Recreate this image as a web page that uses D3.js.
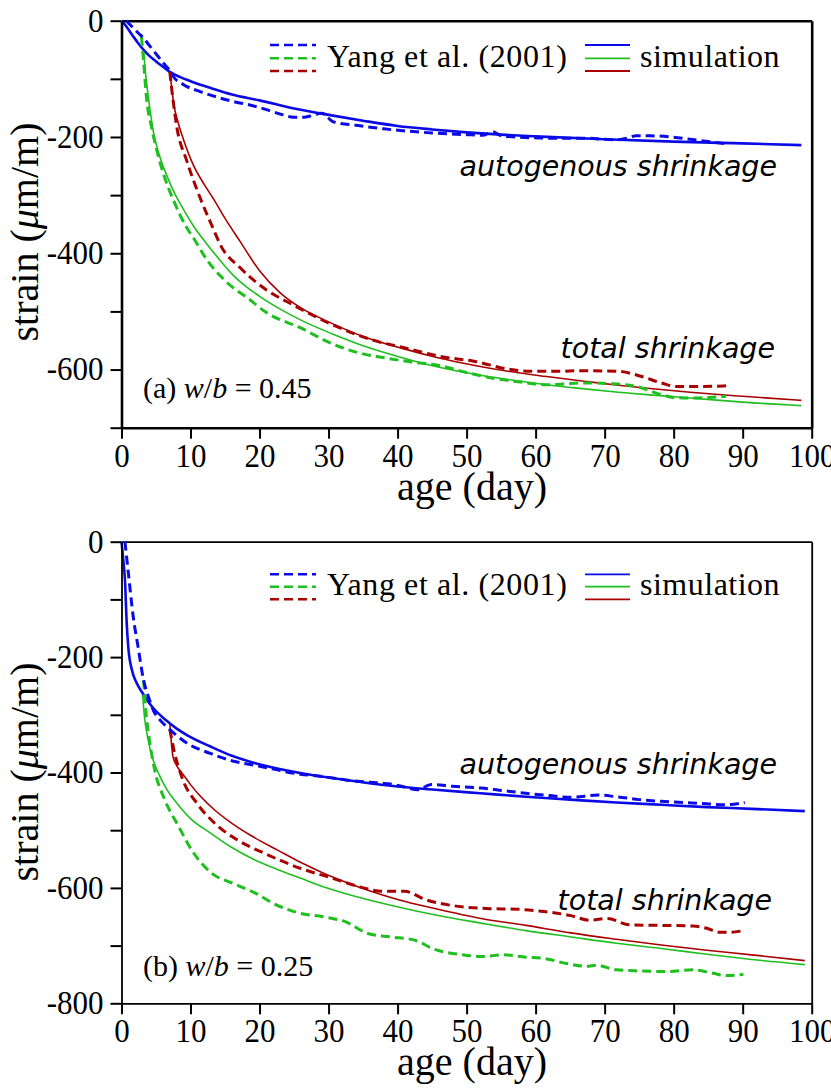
<!DOCTYPE html>
<html>
<head>
<meta charset="utf-8">
<script src="https://cdn.jsdelivr.net/npm/d3@7"></script>
<style>
  body { margin: 0; background: #fff; }
</style>
</head>
<body>
<svg id="chart" width="831" height="1091"></svg>
<script>

////////////////////////////////////////////////////////////
// Data: [age (day), strain (um/m)]
////////////////////////////////////////////////////////////

var ageTicks = [0, 10, 20, 30, 40, 50, 60, 70, 80, 90, 100];

// (a) w/b = 0.45
var autoSimA = [[0,0],[0.5,-7],[1,-15],[1.7,-27],[2.5,-40],[3.2,-50],[4,-60],[5,-70],[6,-79],
  [7,-88],[8.5,-97],[10,-104],[13,-116],[16,-127],[20,-137],[25,-151],[30,-162],[35,-172],
  [40,-181],[45,-187],[50,-192],[55,-196],[60,-199],[70,-204],[80,-208],[90,-211],[98.5,-214]];

var autoExpA = [[0.7,0],[1.5,-10],[2.5,-22],[3.2,-30],[4,-42],[5,-57],[6,-72],[7,-86],[7.5,-96],
  [9,-110],[11.4,-122],[14,-132],[16.2,-139],[18.6,-145],[21,-153],[23.4,-162],[24.9,-166],
  [26.5,-166],[27.3,-164],[29,-159],[30.7,-174],[34,-180],[38,-186],[45,-193],[50,-196],
  [52.4,-197],[53.8,-191],[55,-198],[57.3,-200],[62,-202],[66.9,-202],[71.7,-205],[73.2,-202],
  [74.6,-198],[76.6,-198],[80,-200.5],[82.4,-204],[87.7,-212]];

var dry3SimA = [[3.2,-50],[3.4,-80],[3.65,-108],[4.1,-150],[4.6,-190],[5.5,-232],[6.55,-266],
  [7.7,-297],[8.95,-324],[10.6,-356],[12.3,-383],[14,-408],[16.2,-438],[18,-457],[20,-474],
  [23,-496],[26,-515],[30.4,-538],[35,-559],[40.8,-580],[46,-596],[51.2,-608],[56,-617],
  [61.6,-626],[67,-633],[72,-639],[77,-644],[82.4,-649],[90,-656],[98.5,-662]];

var dry3ExpA = [[2.9,-28],[3.2,-70],[3.65,-136],[4.3,-180],[5.1,-222],[6.2,-268],[7.5,-308],
  [9.4,-355],[10.5,-375],[12.3,-410],[15,-447],[18.6,-480],[21,-502],[25.9,-528],[30.4,-555],
  [34,-570],[38.2,-580],[42,-587],[46,-593],[50,-605],[53.8,-615],[57.5,-621],[61.6,-626],
  [64,-625],[66.8,-623],[72,-625],[74.6,-629],[78.2,-643],[80,-648],[82.4,-649],[85,-648],[87.6,-646]];

var dry7SimA = [[7,-88],[7.3,-118],[7.6,-145],[8.2,-175],[9,-205],[10.4,-248],[12,-282],
  [13.3,-306],[15,-340],[17.2,-380],[20,-430],[23,-468],[26,-494],[30,-518],[35,-543],
  [40.8,-564],[46,-580],[51.2,-593],[56,-603],[61.6,-612],[67,-620],[72,-627],[77,-633],
  [82.4,-639],[90,-646],[98.5,-653]];

var dry7ExpA = [[7,-88],[7.4,-130],[8,-182],[9.4,-239],[11.4,-305],[13.3,-358],[14.3,-385],
  [17.2,-425],[21,-463],[24.9,-489],[30.4,-522],[37.2,-552],[40.8,-562],[46,-577],[51.2,-586],
  [56.4,-600],[59.5,-603],[63,-603],[66.8,-602],[72,-603],[75.1,-611],[78.2,-623],[80.3,-629],
  [84,-629],[87.6,-628]];

// (b) w/b = 0.25
var autoSimB = [[0,0],[0.25,-30],[0.5,-66],[0.75,-140],[1,-185],[1.5,-222],[2.2,-245],[3.1,-263],
  [4.5,-287],[6.5,-310],[8,-324],[9.6,-336],[12.9,-355],[16,-371],[19.4,-384],[25.9,-401],
  [32.5,-413],[39,-423],[45.5,-430],[52,-436],[58.6,-442],[65,-447],[71.7,-452],[78.2,-456],
  [84.8,-460],[91.3,-463],[99,-467]];

var autoExpB = [[0.5,0],[1,-55],[1.7,-130],[2.4,-182],[3.2,-240],[4,-272],[4.6,-292],[5.5,-308],
  [6.6,-321],[8,-336],[9.6,-350],[12.9,-367],[16.1,-380],[20,-389],[25.9,-403],[29.2,-407],
  [32.5,-413],[36,-417],[39,-420],[41,-425],[42.9,-430],[44.9,-421],[48,-424],[52.1,-427],
  [55,-431],[58.6,-436],[62,-440],[65.1,-443],[69.1,-439],[71.7,-442],[75,-447],[78.2,-450],
  [84.8,-454],[87.4,-456],[90.3,-452]];

var dry3SimB = [[3.05,-263],[3.3,-300],[3.8,-340],[4.5,-375],[5.5,-405],[6.6,-430],[7.8,-450],
  [10,-480],[12.9,-505],[16,-530],[19.4,-552],[22.6,-568],[25.9,-583],[29,-597],[32.5,-610],
  [39,-630],[45.5,-647],[52.1,-661],[58.6,-674],[65.1,-685],[71.7,-696],[78.2,-705],
  [84.8,-715],[91.3,-724],[99,-733]];

var dry3ExpB = [[3.2,-240],[3.5,-290],[4,-340],[4.8,-395],[6.3,-448],[8.3,-494],[10.2,-535],
  [12.9,-573],[16.1,-592],[19.4,-609],[22,-627],[25.9,-644],[29.2,-650],[32.5,-659],[35.7,-679],
  [39,-685],[42.3,-690],[45.5,-707],[49.5,-716],[52.1,-719],[55.3,-716],[58.6,-720],[61.1,-722],
  [64.5,-731],[67.4,-736],[68.8,-734],[71.7,-742],[75,-744],[79,-745],[82.8,-742],[85.7,-748],
  [87.6,-752],[90.1,-750]];

var dry7SimB = [[7,-316],[7.2,-345],[7.45,-372],[8,-388],[8.9,-403],[10,-421],[11.5,-442],
  [13.5,-465],[16.1,-489],[19,-511],[22.7,-535],[26,-556],[29.2,-574],[32.5,-590],[35.7,-604],
  [40,-620],[45.5,-636],[52.1,-653],[58.6,-665],[65.1,-678],[71.7,-689],[78.2,-699],[84.8,-708],
  [91.3,-716],[99,-726]];

var dry7ExpB = [[7,-325],[7.6,-361],[8.9,-413],[10.9,-453],[13.5,-488],[16.8,-517],[20.7,-540],
  [25.9,-566],[30.5,-583],[35.1,-600],[37.7,-606],[41,-606],[44.2,-621],[48.8,-632],[53.4,-636],
  [57.3,-637],[61.2,-641],[65.1,-648],[67.8,-656],[70.4,-653],[73.6,-664],[78.2,-665],[82.8,-666],
  [84.8,-670],[86.7,-677],[88,-677],[90.1,-674]];

var blue  = "#0a0ae6";
var green = "#1fbf1f";
var red   = "#a80000";

var SERIF = "Liberation Serif";
var SANS  = "DejaVu Sans";

var svg = d3.select("#chart");

// x scale is shared by both panels
var xLeft = 121.5, xRight = 811.7;
var xScale = d3.scaleLinear().domain([0, 100]).range([xLeft, xRight]);

// put a start-anchored text so that it ends (1) or is centred (0.5) at x
function placeText(sel, x, frac) {
    sel.each(function() {
        var w = this.getComputedTextLength();
        d3.select(this).attr("text-anchor", "start").attr("x", x - frac * w);
    });
}

////////////////////////////////////////////////////////////
// Draw one panel
////////////////////////////////////////////////////////////

function drawPanel(p) {

    var yScale = d3.scaleLinear().domain([p.yMin, 0]).range([p.yBottom, p.yTop]);
    var g = svg.append("g");

    var line = d3.line()
        .x(function(d) { return xScale(d[0]); })
        .y(function(d) { return yScale(d[1]); })
        .curve(d3.curveMonotoneX);

    // frame (top and right, no ticks)
    g.append("g")
        .attr("transform", "translate(0," + p.yTop + ")")
        .call(d3.axisTop(xScale).tickValues([]).tickSizeOuter(0))
        .call(styleAxis, p.frameWidth);
    g.append("g")
        .attr("transform", "translate(" + xRight + ",0)")
        .call(d3.axisRight(yScale).tickValues([]).tickSizeOuter(0))
        .call(styleAxis, p.frameWidth);

    // curves: simulation first, experiments on top
    var series = [
        {d: p.dry3Sim, c: green, w: 1.6, dash: null},
        {d: p.dry7Sim, c: red,   w: 1.6, dash: null},
        {d: p.autoSim, c: blue,  w: 2.6, dash: null},
        {d: p.dry3Exp, c: green, w: 3,   dash: "9,5"},
        {d: p.dry7Exp, c: red,   w: 3,   dash: "9,5"},
        {d: p.autoExp, c: blue,  w: 3,   dash: "9,5"}
    ];
    series.forEach(function(s) {
        g.append("path")
            .datum(s.d)
            .attr("fill", "none")
            .attr("stroke", s.c)
            .attr("stroke-width", s.w)
            .attr("stroke-dasharray", s.dash)
            .attr("d", line);
    });

    // left axis
    var yAxis = d3.axisLeft(yScale)
        .tickValues(d3.range(p.yMin, 1, 100))
        .tickSize(11)
        .tickSizeOuter(0)
        .tickPadding(7)
        .tickFormat(function(d) { return d % 200 === 0 ? String(d) : ""; });
    var yTicks = g.append("g")
        .attr("transform", "translate(" + xLeft + ",0)")
        .call(yAxis)
        .call(styleAxis, p.frameWidth)
        .selectAll(".tick text")
        .attr("dy", "0.3em")
        .attr("transform", "scale(1,1.12)");
    placeText(yTicks, -18, 1);

    // bottom axis
    var xAxis = d3.axisBottom(xScale)
        .tickValues(ageTicks)
        .tickSize(11)
        .tickSizeOuter(0)
        .tickFormat(function(d) { return String(d); });
    var xTicks = g.append("g")
        .attr("transform", "translate(0," + p.yBottom + ")")
        .call(xAxis)
        .call(styleAxis, p.frameWidth)
        .selectAll(".tick text")
        .attr("dy", null)
        .attr("y", 39 / 1.12)
        .attr("transform", "scale(1,1.12)");
    placeText(xTicks, 0, 0.5);

    // axis titles
    var xt = g.append("text")
        .attr("y", p.yBottom + 72)
        .attr("font-family", SERIF)
        .attr("font-size", 40)
        .text("age (day)");
    placeText(xt, 472, 0.5);

    var yt = g.append("text")
        .attr("transform", "translate(38," + p.yLabelMid + ") rotate(-90)")
        .attr("font-family", SERIF)
        .attr("font-size", 40);
    yt.append("tspan").text("strain (");
    yt.append("tspan").attr("font-style", "italic").text("\u03bc");
    yt.append("tspan").text("m/m)");
    placeText(yt, 0, 0.5);

    // legend
    var ly = p.legendY;
    [blue, green, red].forEach(function(c, i) {
        g.append("line")
            .attr("x1", 270).attr("x2", 316)
            .attr("y1", ly[i]).attr("y2", ly[i])
            .attr("stroke", c).attr("stroke-width", 2.6)
            .attr("stroke-dasharray", "9,5");
        g.append("line")
            .attr("x1", 585).attr("x2", 630)
            .attr("y1", ly[i]).attr("y2", ly[i])
            .attr("stroke", c).attr("stroke-width", 1.8);
    });
    g.append("text")
        .attr("x", 327).attr("y", p.legendText)
        .attr("font-family", SERIF)
        .attr("font-size", 32)
        .attr("letter-spacing", 0.6)
        .text("Yang et al. (2001)");
    g.append("text")
        .attr("x", 640).attr("y", p.legendText)
        .attr("font-family", SERIF)
        .attr("font-size", 32)
        .attr("letter-spacing", 0.5)
        .text("simulation");

    // curve notes
    var n1 = g.append("text")
        .attr("y", p.autoNoteY)
        .attr("font-family", SANS)
        .attr("font-style", "italic")
        .attr("font-size", 28.5)
        .text("autogenous shrinkage");
    placeText(n1, 777, 1);
    var n2 = g.append("text")
        .attr("y", p.totalNoteY)
        .attr("font-family", SANS)
        .attr("font-style", "italic")
        .attr("font-size", 28.5)
        .text("total shrinkage");
    placeText(n2, p.totalNoteX, 1);

    // panel tag, e.g. (a) w/b = 0.45
    var tag = g.append("text")
        .attr("x", 143).attr("y", p.tagY)
        .attr("font-family", SERIF)
        .attr("font-size", 30);
    tag.append("tspan").text(p.tag + " ");
    tag.append("tspan").attr("font-style", "italic").text("w");
    tag.append("tspan").text("/");
    tag.append("tspan").attr("font-style", "italic").text("b");
    tag.append("tspan").text(" = " + p.wb);
}

function styleAxis(sel, w) {
    sel.attr("font-family", SERIF).attr("font-size", 31);
    sel.select(".domain").attr("stroke", "#000").attr("stroke-width", w);
    sel.selectAll(".tick line").attr("stroke", "#000").attr("stroke-width", 2);
    sel.selectAll(".tick text").attr("fill", "#000");
}

drawPanel({
    yMin: -700, yTop: 20.7, yBottom: 427.7, frameWidth: 2.6,
    autoSim: autoSimA, autoExp: autoExpA,
    dry3Sim: dry3SimA, dry3Exp: dry3ExpA,
    dry7Sim: dry7SimA, dry7Exp: dry7ExpA,
    yLabelMid: 232, legendY: [45, 58.3, 71], legendText: 67,
    autoNoteY: 176, totalNoteX: 775, totalNoteY: 358,
    tag: "(a)", wb: "0.45", tagY: 397.5
});

drawPanel({
    yMin: -800, yTop: 541.7, yBottom: 1003.3, frameWidth: 1.8,
    autoSim: autoSimB, autoExp: autoExpB,
    dry3Sim: dry3SimB, dry3Exp: dry3ExpB,
    dry7Sim: dry7SimB, dry7Exp: dry7ExpB,
    yLabelMid: 772, legendY: [574.3, 586.7, 599.3], legendText: 595,
    autoNoteY: 774, totalNoteX: 772, totalNoteY: 910,
    tag: "(b)", wb: "0.25", tagY: 976
});

</script>
</body>
</html>
